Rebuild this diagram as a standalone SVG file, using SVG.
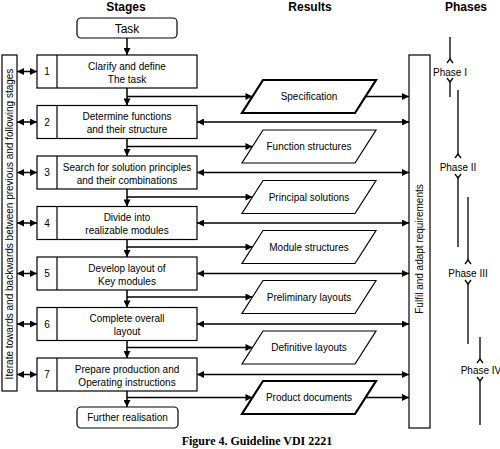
<svg xmlns="http://www.w3.org/2000/svg" width="500" height="449" viewBox="0 0 500 449">
<style>
text{font-family:"Liberation Sans",Arial,sans-serif;font-size:10px;fill:#000}
.h{font-size:12px;font-weight:bold}
.box{fill:#fff;stroke:#000;stroke-width:1.2}
.res{fill:#fff;stroke:#000;stroke-width:1.2}
.resb{fill:#fff;stroke:#000;stroke-width:2.2}
.ln{fill:none;stroke:#000;stroke-width:1.5}
.ph{fill:none;stroke:#111;stroke-width:1.4}
.cap{font-family:"Liberation Serif","Times New Roman",serif;font-size:12px;font-weight:bold}
</style>
<defs>
<marker id="ah" viewBox="0 0 10 10" refX="10" refY="5" markerWidth="8" markerHeight="7" markerUnits="userSpaceOnUse" orient="auto-start-reverse"><path d="M0,0 L10,5 L0,10 z" fill="#000"/></marker>
</defs>
<g id="headings">
<text class="h" x="126" y="11" text-anchor="middle">Stages</text>
<text class="h" x="310" y="11" text-anchor="middle">Results</text>
<text class="h" x="466" y="11" text-anchor="middle">Phases</text>
</g>
<g id="connectors">
<line class="ln" x1="127" y1="38" x2="127" y2="55" marker-end="url(#ah)"/>
<line class="ln" x1="127" y1="88" x2="127" y2="105.5" marker-end="url(#ah)"/>
<line class="ln" x1="127" y1="138.5" x2="127" y2="156" marker-end="url(#ah)"/>
<line class="ln" x1="127" y1="189" x2="127" y2="206.5" marker-end="url(#ah)"/>
<line class="ln" x1="127" y1="239.5" x2="127" y2="257" marker-end="url(#ah)"/>
<line class="ln" x1="127" y1="290" x2="127" y2="307.5" marker-end="url(#ah)"/>
<line class="ln" x1="127" y1="340.5" x2="127" y2="358" marker-end="url(#ah)"/>
<line class="ln" x1="127" y1="391" x2="127" y2="407" marker-end="url(#ah)"/>
<line class="ln" x1="127" y1="96.5" x2="252.5" y2="96.5" marker-end="url(#ah)"/>
<line class="ln" x1="127" y1="146.5" x2="252.5" y2="146.5" marker-end="url(#ah)"/>
<line class="ln" x1="127" y1="197" x2="252.5" y2="197" marker-end="url(#ah)"/>
<line class="ln" x1="127" y1="247" x2="252.5" y2="247" marker-end="url(#ah)"/>
<line class="ln" x1="127" y1="297" x2="252.5" y2="297" marker-end="url(#ah)"/>
<line class="ln" x1="127" y1="347.5" x2="252.5" y2="347.5" marker-end="url(#ah)"/>
<line class="ln" x1="127" y1="397.5" x2="252.5" y2="397.5" marker-end="url(#ah)"/>
<line class="ln" x1="366" y1="96.5" x2="409" y2="96.5" marker-end="url(#ah)"/>
<line class="ln" x1="366" y1="397.5" x2="409" y2="397.5" marker-end="url(#ah)"/>
<line class="ln" x1="197" y1="122" x2="409" y2="122" marker-start="url(#ah)" marker-end="url(#ah)"/>
<line class="ln" x1="197" y1="172.5" x2="409" y2="172.5" marker-start="url(#ah)" marker-end="url(#ah)"/>
<line class="ln" x1="197" y1="223" x2="409" y2="223" marker-start="url(#ah)" marker-end="url(#ah)"/>
<line class="ln" x1="197" y1="273.5" x2="409" y2="273.5" marker-start="url(#ah)" marker-end="url(#ah)"/>
<line class="ln" x1="197" y1="324" x2="409" y2="324" marker-start="url(#ah)" marker-end="url(#ah)"/>
<line class="ln" x1="197" y1="374.5" x2="409" y2="374.5" marker-start="url(#ah)" marker-end="url(#ah)"/>
<line class="ln" x1="17" y1="71.5" x2="37" y2="71.5" marker-start="url(#ah)" marker-end="url(#ah)"/>
<line class="ln" x1="17" y1="122" x2="37" y2="122" marker-start="url(#ah)" marker-end="url(#ah)"/>
<line class="ln" x1="17" y1="172.5" x2="37" y2="172.5" marker-start="url(#ah)" marker-end="url(#ah)"/>
<line class="ln" x1="17" y1="223" x2="37" y2="223" marker-start="url(#ah)" marker-end="url(#ah)"/>
<line class="ln" x1="17" y1="273.5" x2="37" y2="273.5" marker-start="url(#ah)" marker-end="url(#ah)"/>
<line class="ln" x1="17" y1="324" x2="37" y2="324" marker-start="url(#ah)" marker-end="url(#ah)"/>
<line class="ln" x1="17" y1="374.5" x2="37" y2="374.5" marker-start="url(#ah)" marker-end="url(#ah)"/>
</g>
<g id="task">
<rect class="box" x="77" y="18" width="100" height="20" rx="4"/>
<text x="127" y="32.5" text-anchor="middle" style="font-size:12px">Task</text>
</g>
<g id="stage1">
<rect class="box" x="37" y="55" width="160" height="33"/>
<line class="box" x1="57" y1="55" x2="57" y2="88"/>
<text x="47" y="75" text-anchor="middle">1</text>
<text x="127" y="69.5" text-anchor="middle">Clarify and define</text>
<text x="127" y="82.5" text-anchor="middle">The task</text>
</g>
<g id="stage2">
<rect class="box" x="37" y="105.5" width="160" height="33"/>
<line class="box" x1="57" y1="105.5" x2="57" y2="138.5"/>
<text x="47" y="125.5" text-anchor="middle">2</text>
<text x="127" y="120" text-anchor="middle">Determine functions</text>
<text x="127" y="133" text-anchor="middle">and their structure</text>
</g>
<g id="stage3">
<rect class="box" x="37" y="156" width="160" height="33"/>
<line class="box" x1="57" y1="156" x2="57" y2="189"/>
<text x="47" y="176" text-anchor="middle">3</text>
<text x="127" y="170.5" text-anchor="middle">Search for solution principles</text>
<text x="127" y="183.5" text-anchor="middle">and their combinations</text>
</g>
<g id="stage4">
<rect class="box" x="37" y="206.5" width="160" height="33"/>
<line class="box" x1="57" y1="206.5" x2="57" y2="239.5"/>
<text x="47" y="226.5" text-anchor="middle">4</text>
<text x="127" y="221" text-anchor="middle">Divide into</text>
<text x="127" y="234" text-anchor="middle">realizable modules</text>
</g>
<g id="stage5">
<rect class="box" x="37" y="257" width="160" height="33"/>
<line class="box" x1="57" y1="257" x2="57" y2="290"/>
<text x="47" y="277" text-anchor="middle">5</text>
<text x="127" y="271.5" text-anchor="middle">Develop layout of</text>
<text x="127" y="284.5" text-anchor="middle">Key modules</text>
</g>
<g id="stage6">
<rect class="box" x="37" y="307.5" width="160" height="33"/>
<line class="box" x1="57" y1="307.5" x2="57" y2="340.5"/>
<text x="47" y="327.5" text-anchor="middle">6</text>
<text x="127" y="322" text-anchor="middle">Complete overall</text>
<text x="127" y="335" text-anchor="middle">layout</text>
</g>
<g id="stage7">
<rect class="box" x="37" y="358" width="160" height="33"/>
<line class="box" x1="57" y1="358" x2="57" y2="391"/>
<text x="47" y="378" text-anchor="middle">7</text>
<text x="127" y="372.5" text-anchor="middle">Prepare production and</text>
<text x="127" y="385.5" text-anchor="middle">Operating instructions</text>
</g>
<g id="further">
<rect class="box" x="77" y="407" width="101" height="21" rx="4"/>
<text x="127.5" y="421" text-anchor="middle">Further realisation</text>
</g>
<g id="iterate">
<rect class="box" x="2" y="55" width="15" height="336"/>
<text transform="translate(13,224) rotate(-90)" text-anchor="middle">Iterate towards and backwards between previous and following stages</text>
</g>
<g id="requirements">
<rect class="box" x="409" y="55" width="21" height="373"/>
<text transform="translate(422.5,249) rotate(-90)" text-anchor="middle">Fulfil and adapt requirements</text>
</g>
<g id="r1"><polygon class="resb" points="263,80 376,80 355,113 242,113"/><text x="309" y="100" text-anchor="middle">Specification</text></g>
<g id="r2"><polygon class="res" points="263,130 376,130 355,163 242,163"/><text x="309" y="150" text-anchor="middle">Function structures</text></g>
<g id="r3"><polygon class="res" points="263,180.5 376,180.5 355,213.5 242,213.5"/><text x="309" y="200.5" text-anchor="middle">Principal solutions</text></g>
<g id="r4"><polygon class="res" points="263,230.5 376,230.5 355,263.5 242,263.5"/><text x="309" y="250.5" text-anchor="middle">Module structures</text></g>
<g id="r5"><polygon class="res" points="263,280.5 376,280.5 355,313.5 242,313.5"/><text x="309" y="300.5" text-anchor="middle">Preliminary layouts</text></g>
<g id="r6"><polygon class="res" points="263,331 376,331 355,364 242,364"/><text x="309" y="351" text-anchor="middle">Definitive layouts</text></g>
<g id="r7"><polygon class="resb" points="263,381 376,381 355,414 242,414"/><text x="309" y="401" text-anchor="middle">Product documents</text></g>
<g id="phase1">
<line class="ph" x1="450" y1="37" x2="450" y2="59"/>
<polyline class="ph" points="447,63 450,59 453,63"/>
<text x="450" y="75.5" text-anchor="middle">Phase I</text>
<polyline class="ph" points="447,78 450,82 453,78"/>
<line class="ph" x1="450" y1="82" x2="450" y2="97"/>
</g>
<g id="phase2">
<line class="ph" x1="458" y1="90" x2="458" y2="154"/>
<polyline class="ph" points="455,158 458,154 461,158"/>
<text x="458" y="170.5" text-anchor="middle">Phase II</text>
<polyline class="ph" points="455,174 458,178 461,174"/>
<line class="ph" x1="458" y1="178" x2="458" y2="247"/>
</g>
<g id="phase3">
<line class="ph" x1="468" y1="197" x2="468" y2="260"/>
<polyline class="ph" points="465,264 468,260 471,264"/>
<text x="468" y="276.5" text-anchor="middle">Phase III</text>
<polyline class="ph" points="465,280 468,284 471,280"/>
<line class="ph" x1="468" y1="284" x2="468" y2="344"/>
</g>
<g id="phase4">
<line class="ph" x1="480" y1="337" x2="480" y2="359"/>
<polyline class="ph" points="477,363 480,359 483,363"/>
<text x="481" y="374" text-anchor="middle">Phase IV</text>
<polyline class="ph" points="477,377 480,381 483,377"/>
<line class="ph" x1="480" y1="381" x2="480" y2="425"/>
</g>
<text class="cap" x="257" y="445" text-anchor="middle">Figure 4. Guideline VDI 2221</text>
</svg>
